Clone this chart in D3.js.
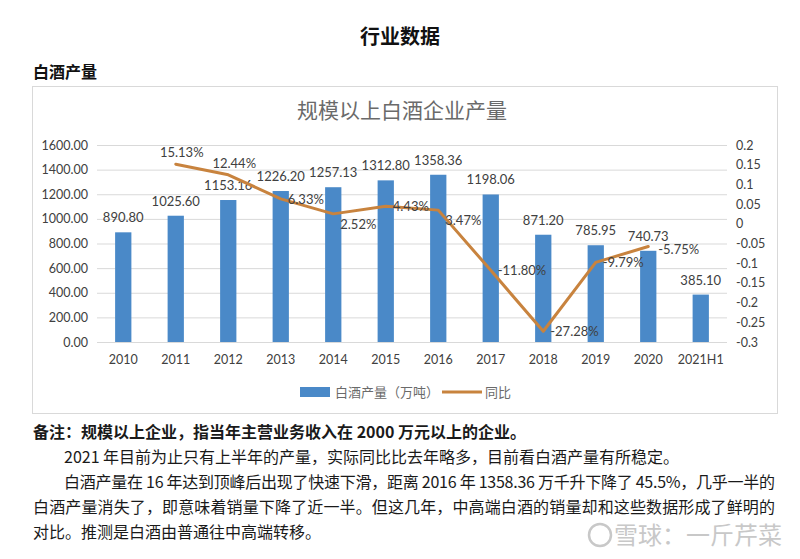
<meta charset="utf-8">
<script src="https://cdn.jsdelivr.net/npm/d3@7/dist/d3.min.js"></script>
<style>
body { margin:0; background:white; overflow:hidden; }
text { font-family: "Noto Sans CJK SC", sans-serif; }
.num { font-family: Lato, "Liberation Sans", sans-serif; }
</style>
<body>
<div id="root"></div>
<script>
// data
var years = ['2010','2011','2012','2013','2014','2015','2016','2017','2018','2019','2020','2021H1'];
var output = [890.80, 1025.60, 1153.16, 1226.20, 1257.13, 1312.80, 1358.36, 1198.06, 871.20, 785.95, 740.73, 385.10];
var yoy = [null, 15.13, 12.44, 6.33, 2.52, 4.43, 3.47, -11.80, -27.28, -9.79, -5.75, null];
var leftTicks = [0, 200, 400, 600, 800, 1000, 1200, 1400, 1600];
var rightTicks = [-0.3, -0.25, -0.2, -0.15, -0.1, -0.05, 0, 0.05, 0.1, 0.15, 0.2];
var yoyLabelPos = ['', 'top', 'top', 'right', 'below', 'right', 'below', 'right', 'right', 'right', 'rightlow', ''];
var notes = [
  {t:'备注：规模以上企业，指当年主营业务收入在 2000 万元以上的企业。', bold:true, indent:false},
  {t:'2021 年目前为止只有上半年的产量，实际同比比去年略多，目前看白酒产量有所稳定。', indent:true},
  {t:'白酒产量在 16 年达到顶峰后出现了快速下滑，距离 2016 年 1358.36 万千升下降了 45.5%，几乎一半的', indent:true, full:true},
  {t:'白酒产量消失了，即意味着销量下降了近一半。但这几年，中高端白酒的销量却和这些数据形成了鲜明的', indent:false, full:true},
  {t:'对比。推测是白酒由普通往中高端转移。', indent:false}
];

var width = 800, height = 559,
    barColor = '#4a89c8', lineColor = '#c8833e';

var svg = d3.select('#root').append('svg')
  .attr('width', width).attr('height', height);

// page headings
svg.append('text').attr('x', 400).attr('y', 44).attr('text-anchor', 'middle')
  .style('font-size', '20px').style('font-weight', 'bold').attr('fill', '#111')
  .text('行业数据');
svg.append('text').attr('x', 33).attr('y', 78)
  .style('font-size', '16px').style('font-weight', 'bold').attr('fill', '#111')
  .text('白酒产量');

// chart frame
svg.append('rect').attr('x', 32.5).attr('y', 86.5).attr('width', 745).attr('height', 327)
  .attr('fill', 'white').attr('stroke', '#d9d9d9');

svg.append('text').attr('x', 402).attr('y', 118).attr('text-anchor', 'middle')
  .style('font-size', '21px').attr('fill', '#6a6a6a')
  .text('规模以上白酒企业产量');

var x = d3.scaleBand().domain(years).range([97, 727]).paddingInner(0.69).paddingOuter(0.345);
var yL = d3.scaleLinear().domain([0, 1600]).range([342, 145]);
var yR = d3.scaleLinear().domain([-0.3, 0.2]).range([342, 145]);

// grid + left axis
var gL = svg.append('g').attr('transform', 'translate(97,0)')
  .call(d3.axisLeft(yL).tickValues(leftTicks).tickSize(-630).tickPadding(9)
    .tickFormat(function(d){ return d.toFixed(2); }));
gL.select('.domain').remove();
gL.selectAll('line').attr('stroke', '#d9d9d9');
gL.selectAll('text').attr('class', 'num').style('font-size', '12.5px').attr('fill', '#404040');

// right axis
var gR = svg.append('g').attr('transform', 'translate(727,0)')
  .call(d3.axisRight(yR).tickValues(rightTicks).tickSize(0).tickPadding(9)
    .tickFormat(function(d){ return String(+d.toFixed(2)); }));
gR.select('.domain').remove();
gR.selectAll('text').attr('class', 'num').style('font-size', '12.5px').attr('fill', '#404040');

// bottom axis labels
var gB = svg.append('g').attr('transform', 'translate(0,342)')
  .call(d3.axisBottom(x).tickSize(0).tickPadding(13));
gB.select('.domain').remove();
gB.selectAll('text').attr('class', 'num').style('font-size', '12.5px').attr('fill', '#404040');

// bars
svg.selectAll('.bar').data(output).enter().append('rect')
  .attr('class', 'bar')
  .attr('x', function(d, i){ return x(years[i]); })
  .attr('width', x.bandwidth())
  .attr('y', function(d){ return yL(d); })
  .attr('height', function(d){ return yL(0) - yL(d); })
  .attr('fill', barColor);

svg.selectAll('.barlab').data(output).enter().append('text')
  .attr('class', 'num')
  .attr('x', function(d, i){ return x(years[i]) + x.bandwidth() / 2; })
  .attr('y', function(d){ return yL(d) - 10; })
  .attr('text-anchor', 'middle')
  .style('font-size', '13px').attr('fill', '#404040')
  .text(function(d){ return d.toFixed(2); });

// yoy line
var pts = yoy.map(function(v, i){ return {v: v, i: i}; }).filter(function(d){ return d.v !== null; });
var cx = function(d){ return x(years[d.i]) + x.bandwidth() / 2; };
var line = d3.line().x(cx).y(function(d){ return yR(d.v / 100); });
svg.append('path').datum(pts).attr('d', line)
  .attr('fill', 'none').attr('stroke', lineColor).attr('stroke-width', 3)
  .attr('stroke-linejoin', 'round').attr('stroke-linecap', 'round');

svg.selectAll('.linelab').data(pts).enter().append('text')
  .attr('class', 'num')
  .attr('x', function(d){
    var p = yoyLabelPos[d.i];
    if (p === 'top') return cx(d) + 6;
    if (p === 'rightlow') return cx(d) + 10;
    return cx(d) + 7;
  })
  .attr('y', function(d){
    var p = yoyLabelPos[d.i], y = yR(d.v / 100);
    if (p === 'top') return y - 7;
    if (p === 'below') return y + 15;
    if (p === 'rightlow') return y + 8;
    return y + 5;
  })
  .attr('text-anchor', function(d){ return yoyLabelPos[d.i] === 'top' ? 'middle' : 'start'; })
  .style('font-size', '13px').attr('fill', '#404040')
  .text(function(d){ return d.v.toFixed(2) + '%'; });

// legend
var lg = svg.append('g').attr('transform', 'translate(300,392)');
lg.append('rect').attr('x', 0).attr('y', -5).attr('width', 30).attr('height', 10).attr('fill', barColor);
lg.append('text').attr('x', 35).attr('y', 5).style('font-size', '13px').attr('fill', '#6a6a6a')
  .text('白酒产量（万吨）');
lg.append('line').attr('x1', 142).attr('x2', 182).attr('y1', 0).attr('y2', 0)
  .attr('stroke', lineColor).attr('stroke-width', 3);
lg.append('text').attr('x', 185).attr('y', 5).style('font-size', '13px').attr('fill', '#6a6a6a')
  .text('同比');

// notes below the chart
svg.selectAll('.note').data(notes).enter().append('text')
  .attr('x', function(d){ return d.indent ? 64 : 33; })
  .attr('y', function(d, i){ return 438 + i * 25; })
  .style('font-size', '16px')
  .style('font-weight', function(d){ return d.bold ? 'bold' : 'normal'; })
  .attr('fill', '#1a1a1a')
  .each(function(d){
    if (d.full) d3.select(this).attr('textLength', d.indent ? 711 : 742).attr('lengthAdjust', 'spacing');
  })
  .text(function(d){ return d.t; });

// watermark
var wm = svg.append('g').attr('transform', 'translate(600,535)');
wm.append('circle').attr('r', 11).attr('fill', 'none').attr('stroke', '#c8c8c8').attr('stroke-width', 2.5);
wm.append('text').attr('x', 14).attr('y', 9).style('font-size', '24px').attr('fill', '#c8c8c8')
  .text('雪球：一斤芹菜');
</script>
</body>
